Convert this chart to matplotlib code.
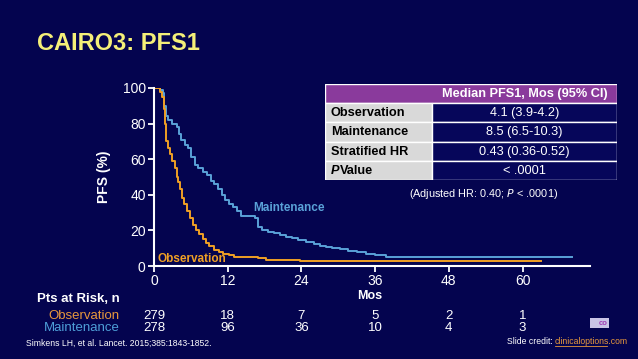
import matplotlib.pyplot as plt
from matplotlib.patches import Rectangle
from matplotlib.transforms import blended_transform_factory

plt.rcParams['font.family'] = ['Liberation Sans', 'DejaVu Sans']

BG = '#04044f'
ORANGE = '#f0a024'
BLUE = '#5aa2d8'

# Kaplan-Meier curves (months, % PFS)
obs_t = [0, 1.0, 1.3, 1.6, 1.8, 2.0, 2.3, 2.6, 3.0, 3.4, 3.7, 3.9, 4.2, 4.5, 4.9, 5.4,
         5.9, 6.3, 6.8, 7.4, 7.9, 8.5, 9.0, 9.8, 10.5, 11.3, 12.2, 13.0, 17.0, 18.3, 23.7, 63]
obs_s = [100, 98, 95, 88, 80, 70, 66, 63, 59, 55, 50, 47, 43, 38, 35, 31,
         27, 23, 20, 18, 15, 13, 11, 9, 8, 7, 6, 5, 4.5, 3.4, 2.7, 2.7]

maint_t = [0, 1.0, 1.5, 1.7, 1.9, 2.3, 3.0, 3.7, 4.0, 4.4, 5.0, 5.6, 6.1, 6.6, 7.2, 8.0,
           8.6, 9.2, 9.8, 10.4, 11.0, 11.6, 12.2, 12.8, 13.5, 14.2, 16.4, 17.0, 17.6, 18.5,
           19.5, 20.5, 21.5, 22.5, 23.5, 24.8, 26, 27, 28, 29, 30.2, 31.5, 33, 34.5, 36, 37.8, 68]
maint_s = [100, 99, 97, 90, 84, 82, 80, 78, 74, 71, 68, 66, 61, 57, 55, 53,
           51, 48, 46, 43, 40, 37, 35, 33, 31, 28, 27, 22, 20, 19,
           18.5, 17.5, 16.5, 15.5, 14.5, 13.5, 12.5, 11.5, 10.5, 10, 9.5, 8.5, 7.8, 7, 6.3, 5.2, 5.2]

# patients at risk
risk_months = [0, 12, 24, 36, 48, 60]
risk_obs = [279, 18, 7, 5, 2, 1]
risk_maint = [278, 96, 36, 10, 4, 3]

# summary table
tbl_header = 'Median PFS1, Mos (95% CI)'
tbl_rows = ['Observation', 'Maintenance', 'Stratified HR', 'P Value']
tbl_vals = ['4.1 (3.9-4.2)', '8.5 (6.5-10.3)', '0.43 (0.36-0.52)', '< .0001']

fig = plt.figure(figsize=(6.38, 3.59), dpi=100, facecolor=BG)

fig.text(0.058, 0.88, 'CAIRO3: PFS1', color='#f4ef78', fontsize=17,
         fontweight='bold', va='center')

ax = fig.add_axes([0.2414, 0.259, 0.6836, 0.496])
ax.set_facecolor(BG)
ax.step(maint_t, maint_s, where='post', color=BLUE, lw=1.4)
ax.step(obs_t, obs_s, where='post', color=ORANGE, lw=1.4)
ax.set_xlim(0, 71)
ax.set_ylim(0, 100)
ax.set_xticks(risk_months)
ax.set_yticks(range(0, 101, 20))
for s in ['top', 'right']:
    ax.spines[s].set_visible(False)
for s in ['left', 'bottom']:
    ax.spines[s].set_color('white')
    ax.spines[s].set_linewidth(1.5)
ax.tick_params(colors='white', labelsize=10, length=4, width=1.3, pad=2)
ax.set_ylabel('PFS (%)', color='white', fontsize=10, fontweight='bold', labelpad=8)
ax.text(16.2, 31, 'Maintenance', color=BLUE, fontsize=8.5, fontweight='bold')
ax.text(0.6, 2.5, 'Observation', color=ORANGE, fontsize=8.5, fontweight='bold')

# risk table under the axis
tr = blended_transform_factory(ax.transData, fig.transFigure)
fig.text(0.58, 0.176, 'Mos', color='white', fontsize=9, fontweight='bold', ha='center', va='center')
fig.text(0.188, 0.167, 'Pts at Risk, n', color='white', fontsize=9.5, fontweight='bold',
         ha='right', va='center')
fig.text(0.188, 0.119, 'Observation', color='#e8983c', fontsize=9.5, ha='right', va='center')
fig.text(0.188, 0.086, 'Maintenance', color='#4e9fd8', fontsize=9.5, ha='right', va='center')
for m, a, b in zip(risk_months, risk_obs, risk_maint):
    ax.text(m, 0.119, str(a), transform=tr, color='white', fontsize=9.5, ha='center', va='center')
    ax.text(m, 0.086, str(b), transform=tr, color='white', fontsize=9.5, ha='center', va='center')

fig.text(0.04, 0.045, 'Simkens LH, et al. Lancet. 2015;385:1843-1852.', color='white',
         fontsize=6.2, va='center')
fig.text(0.795, 0.05, 'Slide credit: ', color='white', fontsize=6.2, va='center')
fig.text(0.87, 0.05, 'clinicaloptions.com', color='#e8983c', fontsize=6.2, va='center')
fig.add_artist(plt.Line2D([0.87, 0.952], [0.036, 0.036], color='#e8983c', lw=0.6,
                          transform=fig.transFigure))
fig.add_artist(Rectangle((0.925, 0.085), 0.03, 0.03, transform=fig.transFigure,
                         facecolor='#c9c4e6', edgecolor='none'))
fig.text(0.945, 0.1, 'co', color='#a03cb4', fontsize=5.5, fontweight='bold', va='center', ha='center')

# summary table
tax = fig.add_axes([0.5094, 0.4986, 0.4577, 0.2674])
tax.set_xlim(0, 1)
tax.set_ylim(5, 0)
tax.axis('off')
split = 0.366
tax.add_patch(Rectangle((0, 0), 1, 1, facecolor='#8a3a9c', edgecolor='white', lw=1))
tax.text((split + 1) / 2, 0.5, tbl_header, color='white', fontsize=9.2, fontweight='bold',
         ha='center', va='center')
for i, (lab, val) in enumerate(zip(tbl_rows, tbl_vals)):
    y = i + 1
    tax.add_patch(Rectangle((0, y), split, 1, facecolor='#d9d9d9', edgecolor='white', lw=1))
    tax.add_patch(Rectangle((split, y), 1 - split, 1, facecolor='#06065a', edgecolor='white', lw=1))
    if lab.startswith('P '):
        tax.text(0.02, y + 0.52, 'P', color='black', fontsize=9.2, fontweight='bold',
                 fontstyle='italic', va='center')
        tax.text(0.052, y + 0.52, 'Value', color='black', fontsize=9.2, fontweight='bold', va='center')
    else:
        tax.text(0.02, y + 0.52, lab, color='black', fontsize=9.2, fontweight='bold', va='center')
    tax.text((split + 1) / 2, y + 0.52, val, color='white', fontsize=9.2, ha='center', va='center')

fig.text(0.758, 0.45, '(Adjusted HR: 0.40; $\\it{P}$ < .0001)', color='white', fontsize=7.8, ha='center')

fig.savefig('out.png', dpi=100, facecolor=BG)
